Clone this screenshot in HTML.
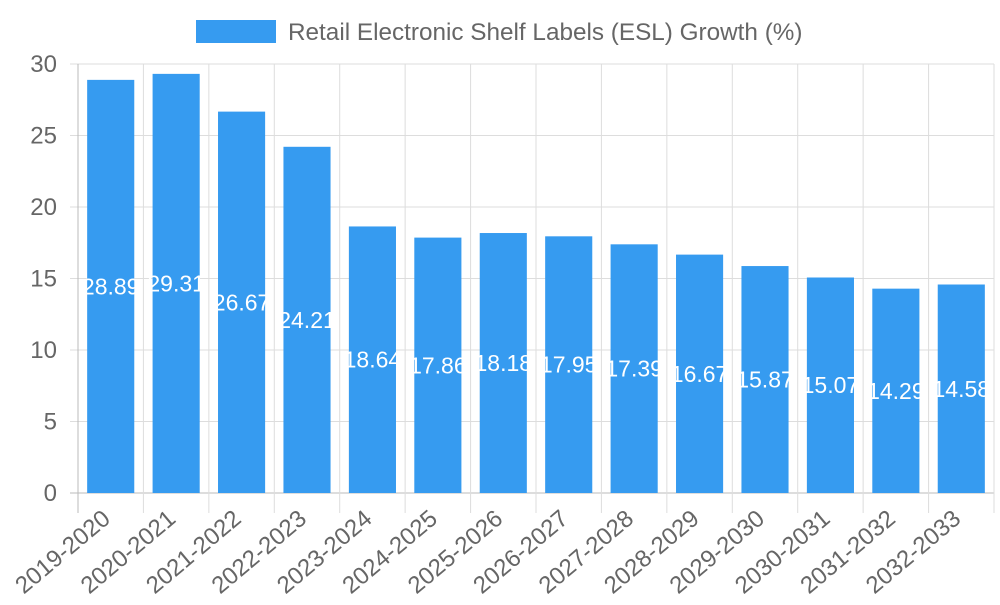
<!DOCTYPE html>
<html><head><meta charset="utf-8"><style>
body{margin:0;background:#fff;font-family:"Liberation Sans",sans-serif}
</style></head><body>
<svg id="chart" width="1000" height="600" xmlns="http://www.w3.org/2000/svg" font-family="Liberation Sans, sans-serif"></svg>
<script>
const categories=["2019-2020","2020-2021","2021-2022","2022-2023","2023-2024","2024-2025","2025-2026","2026-2027","2027-2028","2028-2029","2029-2030","2030-2031","2031-2032","2032-2033"];
const values=[28.89,29.31,26.67,24.21,18.64,17.86,18.18,17.95,17.39,16.67,15.87,15.07,14.29,14.58];
const yTicks=[0,5,10,15,20,25,30];
const seriesName="Retail Electronic Shelf Labels (ESL) Growth (%)";
const svg=document.getElementById('chart');
const NS="http://www.w3.org/2000/svg";
const L=78,R=994,T=64,B=493,yMax=30;
const bw=(R-L)/categories.length;
const y=v=>B-(v/yMax)*(B-T);
const xc=i=>L+bw*(i+0.5);
function mk(t,a,txt){const e=document.createElementNS(NS,t);for(const k in a)e.setAttribute(k,a[k]);if(txt!=null)e.textContent=txt;svg.appendChild(e);return e;}
let e=mk('rect',{x:196,y:20,width:80,height:23,fill:'#369bf0'});


e=mk('text',{x:288,y:40,'font-size':24.3,fill:'#666'},seriesName);


yTicks.forEach(t=>{
  e=mk('line',{x1:L-8,x2:R,y1:y(t),y2:y(t),stroke:t===0?'#bbb':'#ddd','stroke-width':1});
  
  
  e=mk('text',{x:57,y:y(t)+8,'font-size':24,fill:'#666','text-anchor':'end'},String(t));
  
  
});
for(let i=0;i<=categories.length;i++){
  const x=L+bw*i;
  e=mk('line',{x1:x,x2:x,y1:T,y2:B+20,stroke:i===0?'#bbb':'#ddd','stroke-width':1});
  
  
}
const barW=bw*0.72;
values.forEach((v,i)=>{
  e=mk('rect',{x:xc(i)-barW/2,y:y(v),width:barW,height:B-y(v),fill:'#369bf0'});
  
  
  e=mk('text',{x:xc(i),y:(y(v)+B)/2+8,'font-size':23,fill:'#fff','text-anchor':'middle'},v.toFixed(2));
  
  
});
categories.forEach((c,i)=>{
  const x=xc(i)+1,yy=B+28;
  e=mk('text',{x:x,y:yy,'font-size':24,fill:'#666','text-anchor':'end',transform:`rotate(-40 ${x} ${yy})`},c);
  
  
});
</script>
</body></html>
